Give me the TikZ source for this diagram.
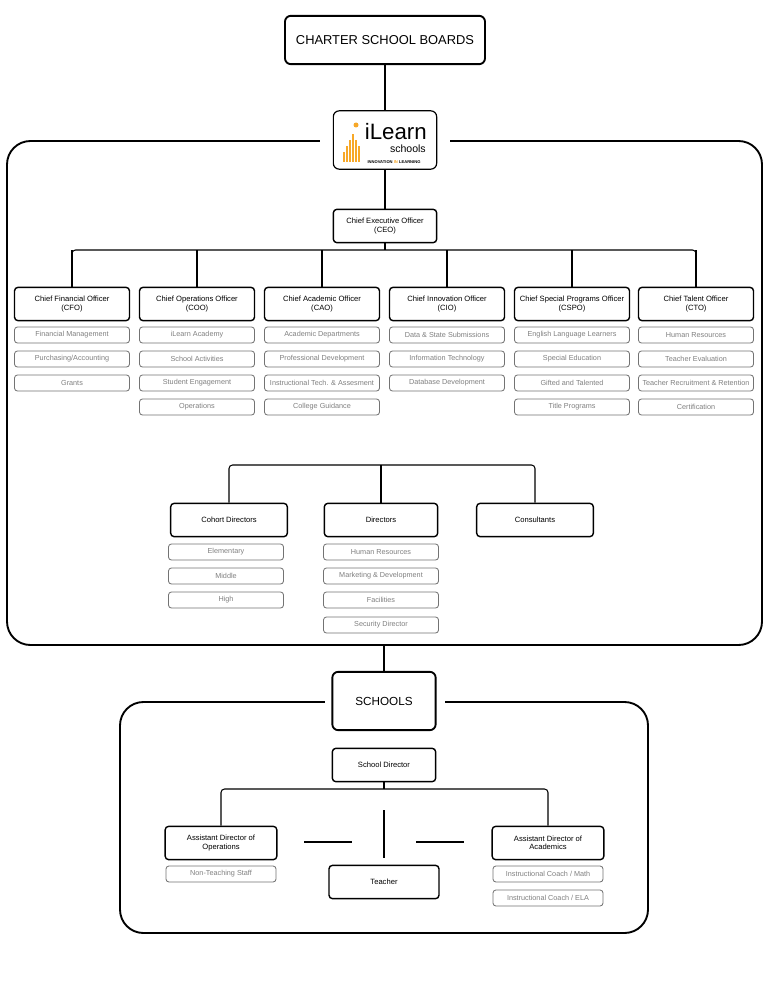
\documentclass[tikz,border=0pt]{standalone}
\usepackage{fontspec}
\setmainfont{Liberation Sans}
\definecolor{ilorange}{RGB}{247,168,40}
\tikzset{
    head/.style={draw=black, line width=1.2pt, rounded corners=3pt, fill=white, minimum width=3.45cm, minimum height=1cm, align=center, font=\fontsize{6.5}{7}\selectfont},
    sub/.style={draw=black!55, line width=0.7pt, rounded corners=2.5pt, fill=white, minimum width=3.45cm, minimum height=0.48cm, text=black!50, font=\fontsize{6.2}{7}\selectfont},
    big/.style={draw=black, line width=1.6pt, rounded corners=5pt, fill=white, align=center},
    frame/.style={draw=black, line width=1.6pt, rounded corners=20pt},
    link/.style={draw=black, line width=0.9pt}
}
\begin{document}
\begin{tikzpicture}[x=0.03cm,y=-0.03cm]
    \useasboundingbox (0,0) rectangle (768,987);

    % frames
    \draw[frame] (7,141) rectangle (762,645);
    \fill[white] (320,130) rectangle (450,150);
    \draw[frame] (120,702) rectangle (648,933);
    \fill[white] (325,690) rectangle (445,712);

    % top
    \node[big, minimum width=6cm, minimum height=1.45cm, font=\fontsize{11}{12}\selectfont] (board) at (385,40) {CHARTER SCHOOL BOARDS};
    \node[big, line width=1pt, minimum width=3.1cm, minimum height=1.75cm] (logo) at (385,140) {};
    \node[font=\fontsize{19}{19}\selectfont, inner sep=0pt, anchor=base east] (il) at (427,140) {iLearn};
    \node[font=\fontsize{9}{9}\selectfont, inner sep=0pt, anchor=base east] (sc) at (426,153) {schools};
    \node[font=\fontsize{3.5}{4}\selectfont\bfseries, inner sep=0pt] (inn) at (394,162) {INNOVATION {\color{ilorange}IN} LEARNING};
    \foreach \xx/\hh in {343/10, 346/16, 349/22, 352/28, 355/22, 358/16}
        \fill[ilorange] (\xx,162) rectangle ++(2,-\hh);
    \fill[ilorange] (356,125) circle (2.5);
    \draw[link] (board) -- (logo);

    \node[head, minimum width=3.1cm] (ceo) at (385,226) {Chief Executive Officer\\(CEO)};
    \draw[link] (logo) -- (ceo);
    \coordinate (bus) at (385,250);
    \draw[link] (ceo) -- (bus);
    \draw[link, rounded corners=3pt] (72,288) -- (72,250) -- (696,250) -- (696,288);

    % officers
    \foreach \nm/\xx/\txt in {cfo/72/{Chief Financial Officer\\(CFO)}, coo/197/{Chief Operations Officer\\(COO)}, cao/322/{Chief Academic Officer\\(CAO)}, cio/447/{Chief Innovation Officer\\(CIO)}, cspo/572/{Chief Special Programs Officer\\(CSPO)}, cto/696/{Chief Talent Officer\\(CTO)}} {
        \node[head] (\nm) at (\xx,304) {\txt};
        \draw[link] (\nm.north) -- (\xx,250);
    }

    \node[sub] at (72,335) {Financial Management};
    \node[sub] at (72,359) {Purchasing/Accounting};
    \node[sub] at (72,383) {Grants};
    \node[sub] at (197,335) {iLearn Academy};
    \node[sub] at (197,359) {School Activities};
    \node[sub] at (197,383) {Student Engagement};
    \node[sub] at (197,407) {Operations};
    \node[sub] at (322,335) {Academic Departments};
    \node[sub] at (322,359) {Professional Development};
    \node[sub, inner xsep=1pt] at (322,383) {Instructional Tech. \& Assesment};
    \node[sub] at (322,407) {College Guidance};
    \node[sub] at (447,335) {Data \& State Submissions};
    \node[sub] at (447,359) {Information Technology};
    \node[sub] at (447,383) {Database Development};
    \node[sub] at (572,335) {English Language Learners};
    \node[sub] at (572,359) {Special Education};
    \node[sub] at (572,383) {Gifted and Talented};
    \node[sub] at (572,407) {Title Programs};
    \node[sub] at (696,335) {Human Resources};
    \node[sub] at (696,359) {Teacher Evaluation};
    \node[sub, inner xsep=1pt] at (696,383) {Teacher Recruitment \& Retention};
    \node[sub] at (696,407) {Certification};

    % directors
    \node[head, minimum width=3.5cm] (cohort) at (229,520) {Cohort Directors};
    \node[head, minimum width=3.4cm] (dirs) at (381,520) {Directors};
    \node[head, minimum width=3.5cm] (cons) at (535,520) {Consultants};
    \draw[link, rounded corners=3pt] (cohort.north) -- (229,465) -- (535,465) -- (cons.north);
    \draw[link] (dirs.north) -- (381,465);

    \node[sub] at (226,552) {Elementary};
    \node[sub] at (226,576) {Middle};
    \node[sub] at (226,600) {High};
    \node[sub] at (381,552) {Human Resources};
    \node[sub] at (381,576) {Marketing \& Development};
    \node[sub] at (381,600) {Facilities};
    \node[sub] at (381,625) {Security Director};

    % schools
    \node[big, minimum width=3.1cm, minimum height=1.75cm, font=\fontsize{10}{11}\selectfont] (schools) at (384,701) {SCHOOLS};
    \draw[link, line width=1.6pt] (384,645) -- (schools);
    \node[head, minimum width=3.1cm] (sdir) at (384,765) {School Director};
    \draw[link] (sdir) -- (384,789);
    \node[head, minimum width=3.35cm] (ops) at (221,843) {Assistant Director of\\Operations};
    \node[head, minimum width=3.35cm] (acad) at (548,843) {Assistant Director of\\Academics};
    \draw[link, rounded corners=3pt] (ops.north) -- (221,789) -- (548,789) -- (acad.north);
    \node[head, minimum width=3.3cm] (teach) at (384,882) {Teacher};
    \coordinate (tl) at (304,842);
    \coordinate (tr) at (464,842);
    \draw[link] (tl) -- (352,842);
    \draw[link] (416,842) -- (tr);
    \draw[link, line width=1.6pt] (384,810) -- (384,858);

    \node[sub, minimum width=3.3cm] at (221,874) {Non-Teaching Staff};
    \node[sub, minimum width=3.3cm] at (548,874) {Instructional Coach / Math};
    \node[sub, minimum width=3.3cm] at (548,898) {Instructional Coach / ELA};
\end{tikzpicture}
\end{document}
